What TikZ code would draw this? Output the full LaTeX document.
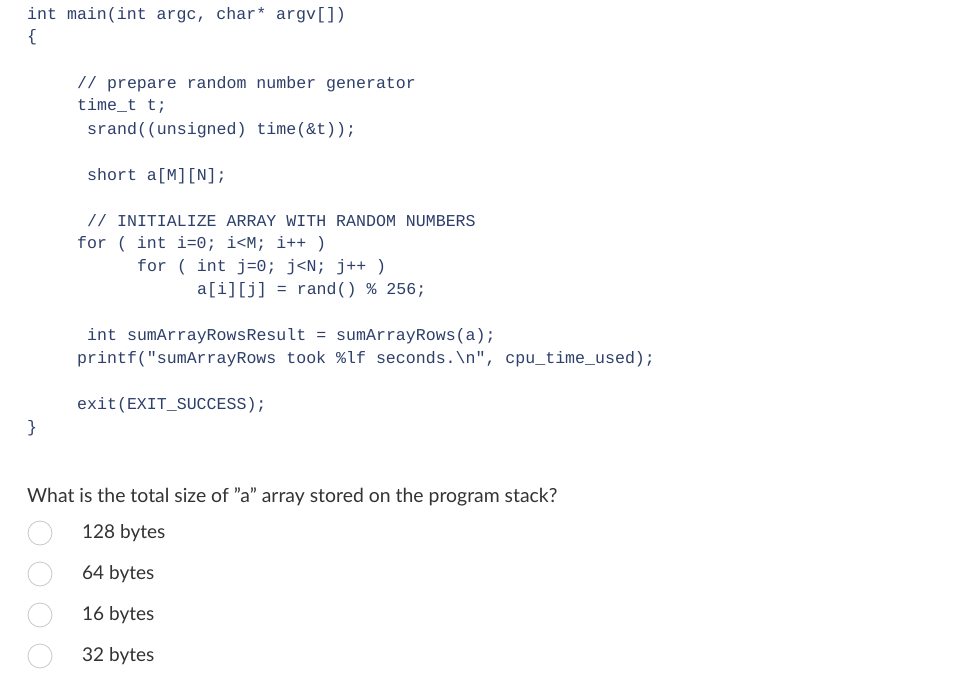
\documentclass[tikz,border=0pt]{standalone}
\usepackage{fontspec}
\setmainfont[Ligatures=NoCommon]{Lato}
\setmonofont{Liberation Mono}
\definecolor{codec}{HTML}{2D3F6A}
\definecolor{txt}{HTML}{333333}
\definecolor{circ}{HTML}{C8C8C8}
\begin{document}
\begin{tikzpicture}[x=1pt,y=-1pt,
  code/.style={anchor=west,inner sep=0pt,text=codec,font=\ttfamily\fontsize{16.6}{16.6}\selectfont},
  qtext/.style={anchor=west,inner sep=0pt,text=txt,font=\fontsize{19.4}{19.4}\selectfont},
  otext/.style={anchor=west,inner sep=0pt,text=txt,font=\fontsize{19}{19}\selectfont},
  radio/.style={circle,draw=circ,line width=0.8pt,minimum size=24pt,inner sep=0pt}]
\useasboundingbox (0,0) rectangle (955,684);
\fill[white] (0,0) rectangle (955,684);
\node[code] (l1) at (27,15) {int main(int argc, char* argv[])};
\node[code] (l2) at (27,37) {\{};
\node[code] (l3) at (77,84) {// prepare random number generator};
\node[code] (l4) at (77,106) {time\_t t;};
\node[code] (l5) at (87,130) {srand((unsigned) time(\&t));};
\node[code] (l6) at (87,176) {short a[M][N];};
\node[code] (l7) at (87,221) {// INITIALIZE ARRAY WITH RANDOM NUMBERS};
\node[code] (l8) at (77,244) {for ( int i=0; i<M; i++ )};
\node[code] (l9) at (137,267) {for ( int j=0; j<N; j++ )};
\node[code] (l10) at (197,290) {a[i][j] = rand() \% 256;};
\node[code] (l11) at (87,336) {int sumArrayRowsResult = sumArrayRows(a);};
\node[code] (l12) at (77,359) {printf("sumArrayRows took \%lf seconds.\textbackslash n", cpu\_time\_used);};
\node[code] (l13) at (77,405) {exit(EXIT\_SUCCESS);};
\node[code] (l14) at (27,428) {\}};
\node[qtext] (q) at (27,497) {What is the total size of \symbol{34}a\symbol{34} array stored on the program stack?};
\node[radio] (r1) at (40,533) {};
\node[radio] (r2) at (40,574) {};
\node[radio] (r3) at (40,615) {};
\node[radio] (r4) at (40,656) {};
\node[otext] (o1) at (82,533) {128 bytes};
\node[otext] (o2) at (82,574) {64 bytes};
\node[otext] (o3) at (82,615) {16 bytes};
\node[otext] (o4) at (82,656) {32 bytes};
\end{tikzpicture}
\end{document}
